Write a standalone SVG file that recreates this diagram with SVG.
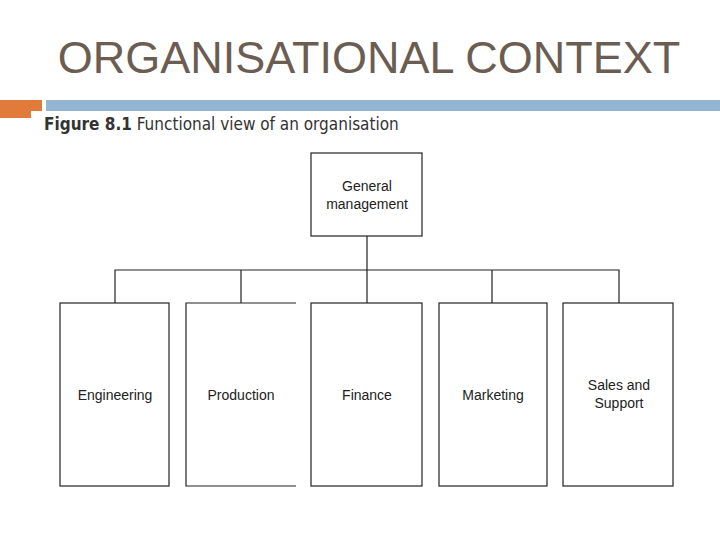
<svg xmlns="http://www.w3.org/2000/svg" width="720" height="540" viewBox="0 0 720 540">
<style>
.box{fill:#fff;stroke:#222;stroke-width:1.2}
.lbl{font-family:"Liberation Sans",Arial,sans-serif;font-size:14px;fill:#222;text-anchor:middle}
.ln{stroke:#222;stroke-width:1.2;fill:none}
</style>
<rect width="720" height="540" fill="#fff"/>
<text x="369" y="73" font-family="Liberation Sans,Arial,sans-serif" font-size="45" fill="#6b5d52" text-anchor="middle">ORGANISATIONAL CONTEXT</text>
<path d="M0 100H42V111H31V118H0Z" fill="#e07b3c"/>
<rect x="46" y="100" width="674" height="11" fill="#93b5d3"/>
<text x="44" y="130" font-family="DejaVu Sans Condensed,DejaVu Sans,sans-serif" font-size="17" fill="#333"><tspan font-weight="bold">Figure 8.1</tspan>  Functional view of an organisation</text>
<g id="connectors">
<path class="ln" d="M367 236V303M115 303V270H619V303M241 270V303M492 270V303"/>
</g>
<g id="gm"><rect class="box" x="311" y="153" width="111" height="83"/><text class="lbl" x="367" y="191">General</text><text class="lbl" x="367" y="209">management</text></g>
<g id="eng"><rect class="box" x="60" y="303" width="109" height="183"/><text class="lbl" x="115" y="400">Engineering</text></g>
<g id="prod"><path class="ln" d="M296 303H186V486H296"/><text class="lbl" x="241" y="400">Production</text></g>
<g id="fin"><rect class="box" x="311" y="303" width="111" height="183"/><text class="lbl" x="367" y="400">Finance</text></g>
<g id="mkt"><rect class="box" x="439" y="303" width="108" height="183"/><text class="lbl" x="493" y="400">Marketing</text></g>
<g id="sales"><rect class="box" x="563" y="303" width="110" height="183"/><text class="lbl" x="619" y="390">Sales and</text><text class="lbl" x="619" y="408">Support</text></g>
</svg>
